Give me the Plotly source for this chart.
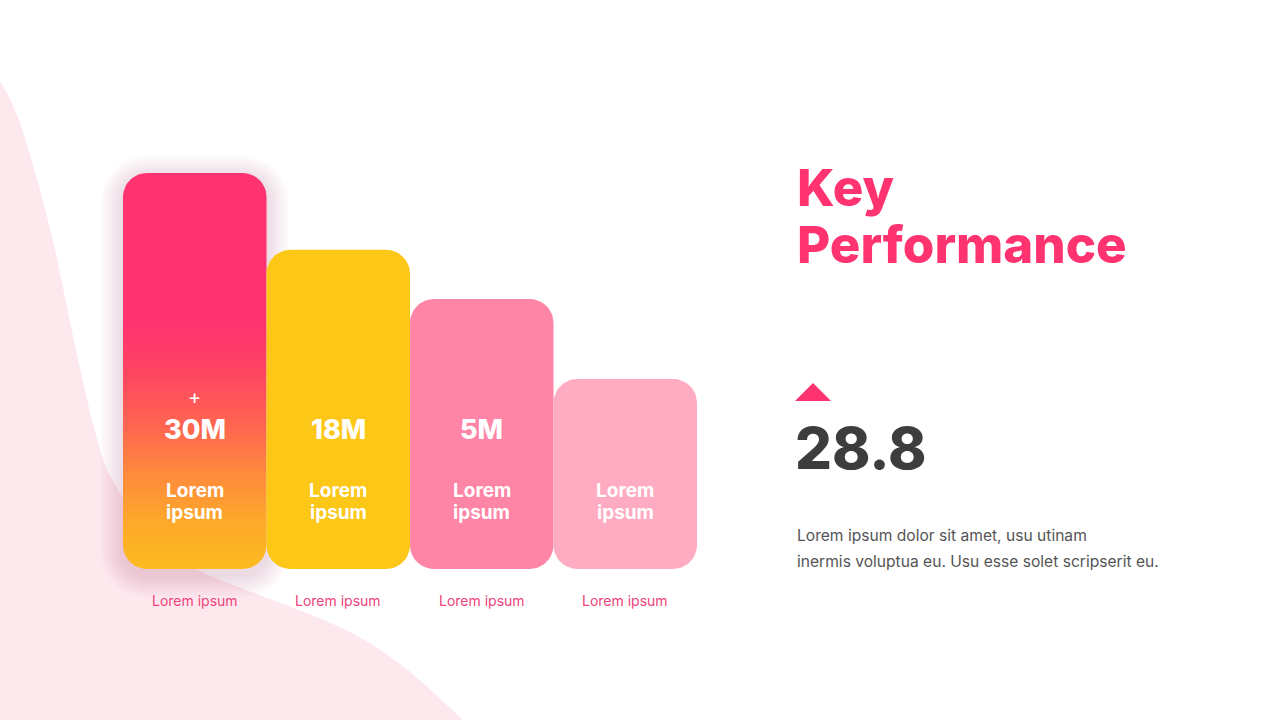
import numpy as np
import plotly.graph_objects as go

# ---------------- data ----------------
bar_index = [0, 1, 2, 3]
bar_heights = [100.0, 80.6, 68.2, 48.0]          # relative bar heights (tallest = 100)
value_labels = ["30M", "18M", "5M", ""]
prefix_labels = ["+", "", "", ""]
inner_line1 = ["Lorem", "Lorem", "Lorem", "Lorem"]
inner_line2 = ["ipsum", "ipsum", "ipsum", "ipsum"]
bottom_labels = ["Lorem ipsum", "Lorem ipsum", "Lorem ipsum", "Lorem ipsum"]
bar_colors = [None, "#FDC718", "#FF85A6", "#FFACC2"]
gradient_scale = [
    [0.00, "#FDBC20"],
    [0.12, "#FDA82A"],
    [0.24, "#FF8A3C"],
    [0.36, "#FF6650"],
    [0.50, "#FF4462"],
    [0.62, "#FF3370"],
    [1.00, "#FF336F"],
]
title_lines = ["Key", "Performance"]
kpi_value = "28.8"
body_lines = ["Lorem ipsum dolor sit amet, usu utinam",
              "inermis voluptua eu. Usu esse solet scripserit eu."]

W, H = 1280, 720
PINK = "#FF3370"
FONT = "Inter"

# plot-area geometry (pixels)
X_LEFT, Y_BOTTOM = 123, 569          # left edge of first bar / baseline
PX_PER_X = 143.5                     # pixels per category step
PX_PER_Y = 3.96                      # pixels per height unit
x_range = [-1.0, 4.2]
y_range = [-14, 112]
x_dom = [(X_LEFT + (x_range[0] + 0.5) * PX_PER_X) / W, (X_LEFT + (x_range[1] + 0.5) * PX_PER_X) / W]
y_dom = [1 - (Y_BOTTOM - y_range[0] * PX_PER_Y) / H, 1 - (Y_BOTTOM - y_range[1] * PX_PER_Y) / H]


def rounded_rect(x0, x1, y0, y1, r_px, n=14):
    rx = r_px / PX_PER_X
    ry = r_px / PX_PER_Y
    xs, ys = [], []
    corners = [
        (x1 - rx, y1 - ry, 0, 90),
        (x0 + rx, y1 - ry, 90, 180),
        (x0 + rx, y0 + ry, 180, 270),
        (x1 - rx, y0 + ry, 270, 360),
    ]
    for cx, cy, a0, a1 in corners:
        t = np.radians(np.linspace(a0, a1, n))
        xs.extend(cx + rx * np.cos(t))
        ys.extend(cy + ry * np.sin(t))
    xs.append(xs[0])
    ys.append(ys[0])
    return xs, ys


fig = go.Figure()

# soft shadow around the first bar
for k in range(9, 0, -1):
    ex = k * 2.5
    xs, ys = rounded_rect(bar_index[0] - 0.5 - ex / PX_PER_X, bar_index[0] + 0.5 + ex / PX_PER_X,
                          0 - (ex + 6) / PX_PER_Y, bar_heights[0] + (ex - 5) / PX_PER_Y, 24 + ex)
    fig.add_trace(go.Scatter(x=xs, y=ys, mode="lines", fill="toself",
                             fillcolor="rgba(170,70,110,0.018)", line=dict(width=0),
                             hoverinfo="skip", showlegend=False))

# bars
for i, h in enumerate(bar_heights):
    xs, ys = rounded_rect(bar_index[i] - 0.5, bar_index[i] + 0.5, 0, h, 24)
    if bar_colors[i] is None:
        fig.add_trace(go.Scatter(x=xs, y=ys, mode="lines", fill="toself",
                                 fillgradient=dict(type="vertical", colorscale=gradient_scale),
                                 line=dict(width=0), hoverinfo="skip", showlegend=False))
    else:
        fig.add_trace(go.Scatter(x=xs, y=ys, mode="lines", fill="toself",
                                 fillcolor=bar_colors[i], line=dict(width=0),
                                 hoverinfo="skip", showlegend=False))


def ann(x, y_px, text, size, color, weight=400, xref="x", xanchor="center"):
    return dict(x=x, y=1 - y_px / H, xref=xref, yref="paper", xanchor=xanchor, yanchor="middle",
                text=text, showarrow=False,
                font=dict(family=FONT, size=size, color=color, weight=weight))


annotations = []
for i in bar_index:
    if prefix_labels[i]:
        annotations.append(ann(i, 397, prefix_labels[i], 20, "white", 400))
    if value_labels[i]:
        annotations.append(ann(i, 429, value_labels[i], 27, "white", 800))
    annotations.append(ann(i, 490, inner_line1[i], 19, "white", 700))
    annotations.append(ann(i, 512, inner_line2[i], 19, "white", 700))
    annotations.append(ann(i, 600, bottom_labels[i], 14, "#F0437A", 400))

annotations.append(ann(795 / W, 188, title_lines[0], 51, PINK, 800, "paper", "left"))
annotations.append(ann(795 / W, 244, title_lines[1], 51, PINK, 800, "paper", "left"))
annotations.append(ann(793 / W, 448, kpi_value, 58, "#3D3D3D", 800, "paper", "left"))
annotations.append(ann(795 / W, 535, body_lines[0], 15.6, "#555555", 400, "paper", "left"))
annotations.append(ann(795 / W, 561, body_lines[1], 15.6, "#555555", 400, "paper", "left"))

# background wave (decorative)
wave_pts = [(0, 81), (20, 123), (50, 228), (77, 355), (97, 439), (113, 481), (150, 535),
            (200, 571), (333, 624), (400, 664), (463, 720)]


def to_paper(p):
    return p[0] / W, 1 - p[1] / H


pts = [to_paper(p) for p in wave_pts]
path = f"M 0,1 L {pts[0][0]},{pts[0][1]}"
for j in range(len(pts) - 1):
    p0 = pts[j - 1] if j > 0 else pts[j]
    p1, p2 = pts[j], pts[j + 1]
    p3 = pts[j + 2] if j + 2 < len(pts) else pts[j + 1]
    c1 = (p1[0] + (p2[0] - p0[0]) / 6, p1[1] + (p2[1] - p0[1]) / 6)
    c2 = (p2[0] - (p3[0] - p1[0]) / 6, p2[1] - (p3[1] - p1[1]) / 6)
    path += f" C {c1[0]},{c1[1]} {c2[0]},{c2[1]} {p2[0]},{p2[1]}"
path += " L 0,0 Z"

shapes = [
    dict(type="path", xref="paper", yref="paper", path=path, fillcolor="#FDE8EE",
         line=dict(width=0), layer="below"),
    dict(type="path", xref="paper", yref="paper",
         path=f"M {795/W},{1-401/H} L {813/W},{1-383/H} L {831/W},{1-401/H} Z",
         fillcolor=PINK, line=dict(width=0)),
]

fig.update_layout(
    width=W, height=H,
    margin=dict(l=0, r=0, t=0, b=0),
    paper_bgcolor="white", plot_bgcolor="rgba(0,0,0,0)",
    showlegend=False,
    xaxis=dict(domain=x_dom, range=x_range, visible=False, fixedrange=True),
    yaxis=dict(domain=y_dom, range=y_range, visible=False, fixedrange=True),
    annotations=annotations,
    shapes=shapes,
)

fig.write_html("out.html", config={"displayModeBar": False},
               post_script="document.body.style.margin='0';document.body.style.overflow='hidden';")
